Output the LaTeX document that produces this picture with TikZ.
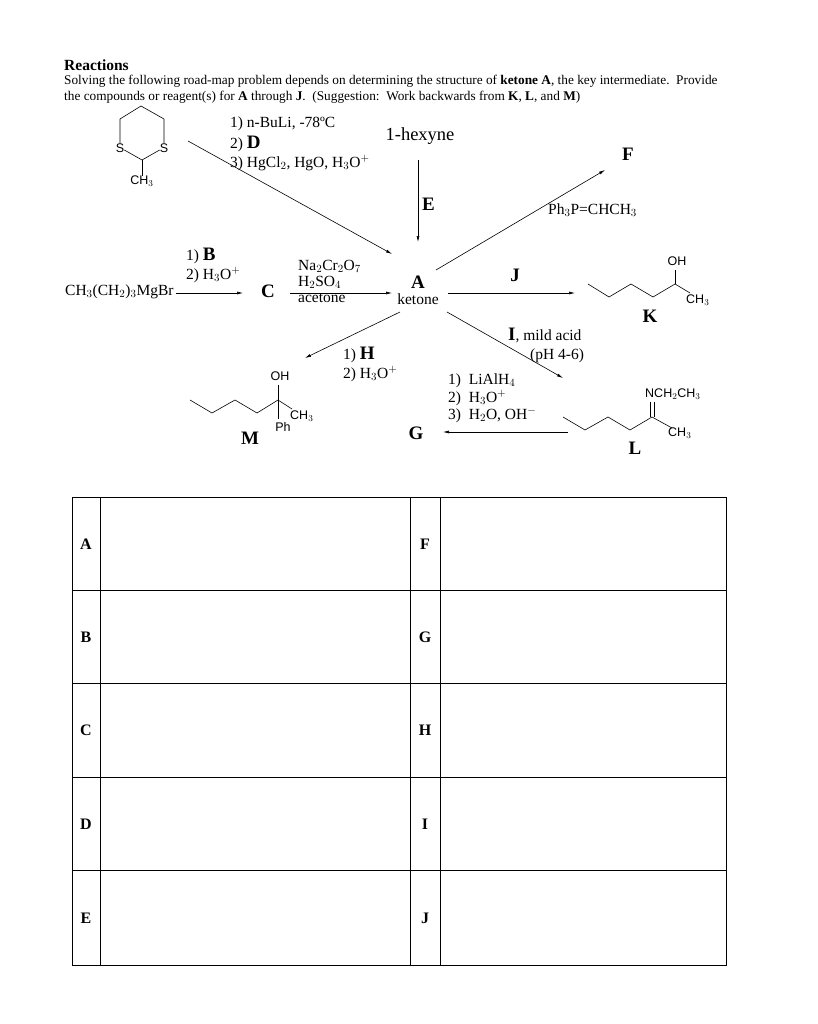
\documentclass[tikz,border=0pt]{standalone}
\usepackage{fontspec}
\setmainfont{Liberation Serif}
\setsansfont{Liberation Sans}
\usetikzlibrary{arrows.meta,calc}
\begin{document}
\begin{tikzpicture}[x=1pt,y=-1pt,
  rx/.style={-{Latex[length=6pt,width=3pt]},line width=0.6pt},
  bd/.style={line width=0.6pt},
  t/.style={inner sep=0pt,font=\fontsize{15.5}{17}\selectfont},
  tl/.style={t,anchor=west},
  big/.style={inner sep=0pt,font=\fontsize{19}{20}\bfseries\selectfont},
  sf/.style={inner sep=0pt,font=\sffamily\fontsize{12.5}{13}\selectfont}]
\useasboundingbox (0,0) rectangle (817,1024);
% header
\node[inner sep=0pt,anchor=west,font=\fontsize{15.5}{17}\bfseries\selectfont] (h1) at (64,65) {Reactions};
\node[inner sep=0pt,anchor=west,font=\fontsize{13.3}{15}\selectfont] (h2) at (64,81) {Solving the following road-map problem depends on determining the structure of \textbf{ketone A}, the key intermediate.\ \ Provide};
\node[inner sep=0pt,anchor=west,font=\fontsize{13.3}{15}\selectfont] (h3) at (64,97) {the compounds or reagent(s) for \textbf{A} through \textbf{J}.\ \ (Suggestion:\ \ Work backwards from \textbf{K}, \textbf{L}, and \textbf{M})};
% dithiane
\node[sf] (s1) at (120,148) {S};
\node[sf] (s2) at (164,148) {S};
\node[sf] (me) at (142,181) {CH$_3$};
\coordinate (c2) at (142,160);
\draw[bd] ($(s1.east)+(0,2)$) -- (c2) -- ($(s2.west)+(0,2)$);
\draw[bd] (c2) -- (me.north);
\draw[bd] (s1.north) -- (120,119) -- (141,106) -- (164,119) -- (s2.north);
% A
\node[big] (A) at (418,282) {A};
\node[t] (ket) at (418,299) {ketone};
% arrow dithiane -> A
\coordinate (d0) at (188,141);
\draw[rx] (d0) -- (392,254);
\node[tl] (r1) at (230,124) {1) n-BuLi, -78ºC};
\node[tl] (r2) at (230,144) {2) \textbf{\fontsize{19}{19}\selectfont D}};
\node[tl] (r3) at (230,163) {3) HgCl$_2$, HgO, H$_3$O$^+$};
% hexyne
\node[t,font=\fontsize{18.5}{19}\selectfont] (hx) at (420,136) {1-hexyne};
\draw[rx] (418,160) -- (418,242);
\node[big,anchor=west] (E) at (422,204) {E};
% Grignard
\node[tl] (g) at (65,292) {CH$_3$(CH$_2$)$_3$MgBr};
\node[big] (C) at (268,291) {C};
\draw[rx] ($(g.east)+(2,1)$) -- (243,293);
\node[tl] (b1) at (186,256) {1) \textbf{\fontsize{19}{19}\selectfont B}};
\node[tl] (b2) at (186,275) {2) H$_3$O$^+$};
\draw[rx] (290,293) -- (392,293);
\node[tl] (n1) at (298,266) {Na$_2$Cr$_2$O$_7$};
\node[tl] (n2) at (298,282) {H$_2$SO$_4$};
\node[tl] (n3) at (298,298) {acetone};
% J -> K
\draw[rx] (448,293) -- (575,293);
\node[big] (J) at (515,275) {J};
\draw[bd] (588,284) -- (609,297) -- (631,284) -- (653,297) -- (675,284) -- (690,293);
\draw[bd] (675,284) -- (675,270);
\node[sf] (oh1) at (677,261) {OH};
\node[sf,anchor=west] (ch1) at (686,300) {CH$_3$};
\node[big] (K) at (650,316) {K};
% F
\draw[rx] (436,270) -- (605,170);
\node[big] (F) at (628,154) {F};
\node[tl] (w) at (548,210) {Ph$_3$P=CHCH$_3$};
% I -> L
\draw[rx] (447,312) -- (563,378);
\node[tl] (i1) at (508,335) {\textbf{\fontsize{19}{19}\selectfont I}, mild acid};
\node[tl] (i2) at (530,356) {(pH 4-6)};
\draw[bd] (563,417) -- (585,430) -- (608,417) -- (630,430) -- (652,417) -- (672,428);
\draw[bd] (650,417) -- (650,402);
\draw[bd] (654,417) -- (654,402);
\node[sf,anchor=west] (n) at (645,394) {NCH$_2$CH$_3$};
\node[sf,anchor=west] (ch2) at (668,433) {CH$_3$};
\node[big] (L) at (635,448) {L};
% L -> G
\node[big] (G) at (416,433) {G};
\draw[rx] (568,432) -- (443,432);
\node[tl] (l1) at (448,381) {1)\ \ LiAlH$_4$};
\node[tl] (l2) at (448,398) {2)\ \ H$_3$O$^+$};
\node[tl] (l3) at (448,415) {3)\ \ H$_2$O, OH$^-$};
% H -> M
\draw[rx] (400,312) -- (305,358);
\node[tl] (m1) at (343,355) {1) \textbf{\fontsize{19}{19}\selectfont H}};
\node[tl] (m2) at (343,374) {2) H$_3$O$^+$};
\draw[bd] (190,400) -- (212,413) -- (235,400) -- (257,413) -- (278,400) -- (292,409);
\draw[bd] (278,400) -- (278,385);
\draw[bd] (278,400) -- (278,419);
\node[sf] (oh2) at (280,376) {OH};
\node[sf,anchor=west] (ch3) at (290,416) {CH$_3$};
\node[sf] (ph) at (283,427) {Ph};
\node[big] (M) at (250,438) {M};
% table
\draw[line width=0.6pt] (72,497) rectangle (726,965);
\foreach \xx in {100,410,440} \draw[line width=0.6pt] (\xx,497) -- (\xx,965);
\foreach \yy in {590,683,777,870} \draw[line width=0.6pt] (72,\yy) -- (726,\yy);
\foreach \l/\r/\yy in {A/F/544,B/G/637,C/H/730,D/I/824,E/J/918}{
  \node[inner sep=0pt,font=\fontsize{16}{17}\bfseries\selectfont] at (86,\yy) {\l};
  \node[inner sep=0pt,font=\fontsize{16}{17}\bfseries\selectfont] at (425,\yy) {\r};
}
\end{tikzpicture}
\end{document}
